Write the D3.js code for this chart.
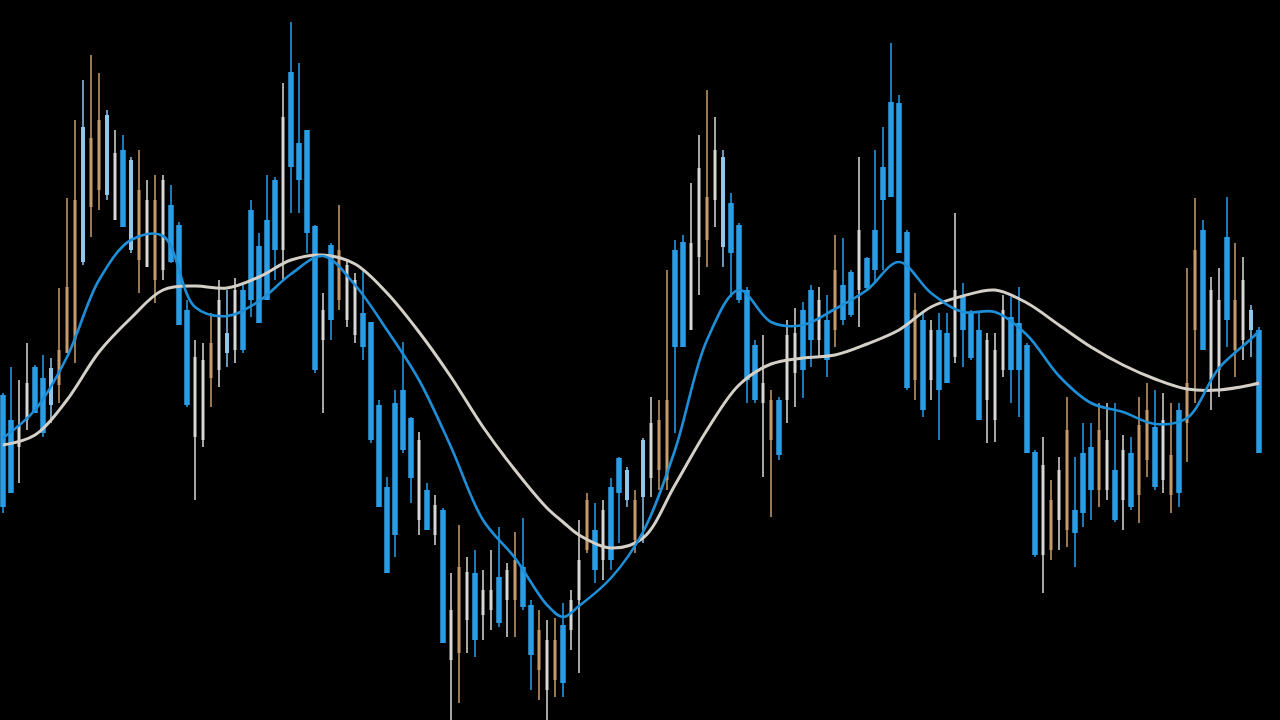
<!DOCTYPE html>
<html>
<head>
<meta charset="utf-8">
<script src="https://cdn.jsdelivr.net/npm/d3@7/dist/d3.min.js"></script>
<style>
html,body{margin:0;padding:0;background:#000;}
svg{display:block;}
</style>
</head>
<body>
<svg id="chart" width="1280" height="720"></svg>
<script>
// ---- Data (price units) ----
const high = [32.7,35.3,34.0,37.7,35.5,36.5,36.2,43.2,52.2,60.0,64.0,66.5,64.7,61.0,59.0,58.5,56.3,57.0,54.0,54.5,54.5,53.5,49.8,42.0,38.0,
37.7,40.7,44.0,43.0,44.2,43.5,52.0,48.7,54.5,54.3,63.7,69.8,65.7,59.0,49.5,42.7,47.7,51.5,46.0,44.7,45.0,39.8,32.0,24.3,33.0,37.8,
30.3,28.8,23.7,22.5,21.2,14.7,19.5,16.3,17.0,15.0,17.0,19.3,15.7,18.8,20.2,12.0,11.0,10.0,10.2,11.7,13.0,20.0,22.7,21.7,22.0,
24.2,26.3,25.3,23.0,28.2,32.3,32.0,45.0,48.0,48.5,53.7,58.5,63.0,60.3,57.0,52.7,49.7,43.3,38.0,38.5,33.0,32.3,40.0,41.2,41.8,
43.5,43.3,42.5,48.5,48.2,45.0,56.3,46.3,57.0,59.3,67.7,62.5,49.0,42.7,40.7,40.0,40.7,40.7,50.7,43.7,41.0,40.7,38.7,38.7,
42.5,42.3,43.3,37.7,27.0,28.3,24.0,26.3,32.3,26.3,29.7,29.7,31.7,31.7,31.7,28.5,28.3,32.3,33.7,33.0,32.7,31.7,31.7,45.2,52.2,50.0,44.3,45.2,52.3,47.7,46.3,41.5,39.3];

const low = [20.7,22.7,23.7,29.0,30.7,28.3,29.7,31.7,36.7,35.7,45.5,48.3,51.0,52.0,50.0,49.3,46.7,42.7,45.3,41.7,44.0,45.7,39.5,31.3,22.0,
27.3,31.3,33.3,35.3,35.7,36.7,40.3,39.7,42.0,44.0,44.0,50.7,50.7,46.7,34.7,30.7,38.0,41.0,39.3,37.7,36.0,27.7,21.3,14.7,16.3,26.7,
21.7,18.5,19.0,17.5,7.7,0.0,1.7,6.7,6.3,8.0,9.0,9.3,8.3,8.3,11.0,3.0,2.0,0.0,2.3,2.3,7.0,4.7,16.7,13.7,14.0,
15.0,17.7,21.3,16.7,17.7,22.3,23.0,23.0,28.7,37.3,39.0,42.5,45.3,49.3,45.3,42.3,41.7,31.7,31.7,24.3,20.3,26.0,29.7,31.3,32.2,
35.3,36.3,34.3,37.3,39.5,40.3,39.3,43.0,43.7,45.0,52.3,46.7,33.0,32.0,30.3,32.0,28.0,33.7,35.7,35.3,36.0,30.0,27.7,27.8,
34.3,31.7,30.3,26.7,16.3,12.7,16.0,17.0,17.3,15.3,19.3,20.0,21.3,22.0,19.8,19.0,21.0,19.7,24.3,23.0,22.7,20.7,21.3,25.8,31.7,37.0,31.0,32.3,37.3,34.3,36.0,36.3,26.7];

const open = [21.3,22.7,27.3,30.0,30.7,28.7,31.5,33.5,36.7,38.0,45.8,51.3,53.0,52.5,50.0,49.3,47.0,46.0,45.3,44.0,45.0,45.8,39.5,31.5,28.3,
28.0,34.2,35.0,36.7,37.0,37.0,42.0,39.7,42.0,47.0,47.0,55.3,54.0,48.7,35.0,38.0,40.0,42.0,40.0,38.5,37.3,28.0,21.3,14.7,18.5,27.0,
24.2,20.0,19.0,18.5,7.7,6.0,6.7,10.0,8.0,10.5,11.0,9.7,12.0,12.0,11.3,6.5,5.0,3.0,4.0,3.7,9.0,12.0,17.0,15.0,16.0,
16.0,22.7,22.0,18.0,22.3,24.2,25.0,24.0,37.3,37.3,39.0,46.3,48.0,52.0,47.3,46.7,42.0,34.0,32.0,31.7,28.0,26.5,32.0,34.7,35.0,
38.0,38.0,36.0,39.0,40.0,40.5,43.0,43.2,45.0,52.0,52.3,46.7,33.2,34.0,31.0,34.0,33.0,33.7,36.3,39.0,36.2,30.0,32.0,30.0,
35.0,35.0,35.0,26.7,16.5,16.5,17.0,20.0,19.0,18.7,20.7,23.0,23.0,23.0,20.0,22.0,21.3,22.5,26.0,23.3,24.0,22.5,22.7,29.7,39.0,37.0,34.0,35.0,40.0,37.0,38.0,39.0,26.7];

const close = [32.5,30.0,29.5,33.7,35.3,34.2,35.2,37.0,43.3,52.0,59.3,58.2,60.0,60.5,56.7,57.0,56.0,53.0,52.0,52.0,54.0,51.5,49.5,41.0,36.3,
36.0,37.7,42.0,38.7,43.0,43.0,51.0,47.4,50.0,54.0,60.3,64.8,57.7,59.0,49.4,41.0,47.5,47.0,45.5,44.0,40.7,39.8,31.5,23.3,31.7,33.0,
30.2,28.0,23.0,21.5,21.0,11.0,15.3,14.8,14.7,13.0,13.0,14.3,15.0,16.0,15.3,11.5,9.0,8.0,8.0,9.5,12.0,16.0,22.0,19.0,21.0,
23.3,26.2,25.0,22.0,28.0,29.7,30.0,32.0,47.0,47.8,47.7,55.2,52.3,57.0,56.3,51.7,49.5,43.0,37.5,33.7,32.0,32.0,38.5,38.7,41.0,
43.0,42.0,40.0,45.0,43.5,44.8,49.0,46.2,49.0,55.3,61.8,61.7,48.8,41.0,40.0,39.0,39.0,38.7,43.0,42.3,40.8,39.0,38.0,37.0,
41.0,40.3,39.7,37.5,26.8,25.5,22.0,25.0,29.0,21.0,26.7,27.3,29.0,28.0,25.0,27.0,26.7,29.5,31.0,29.3,30.0,26.5,31.0,33.7,47.0,49.0,43.0,42.0,48.3,42.0,44.0,41.0,39.0];

// candle colour group: b = blue, l = light blue, w = pale, t = tan
const kind = ["b","b","w","w","b","b","l","t","t","t","l","t","t","l","w","b","l","t","w","t","w","b","b","b","w",
"w","t","w","l","w","b","b","b","b","b","w","b","b","b","b","w","b","t","w","w","b","b","b","b","b","b",
"b","w","b","w","b","w","t","w","b","w","w","b","w","t","b","b","t","w","t","b","w","w","t","b","w",
"b","b","l","t","l","w","t","t","b","b","w","w","t","w","l","b","b","b","b","w","t","b","w","w","b",
"b","w","b","t","b","b","w","b","b","b","b","b","b","t","b","w","b","b","w","b","b","b","w","w",
"w","b","b","b","b","w","t","w","t","b","b","b","t","w","b","w","b","t","t","b","w","t","b","t","t","b","w","w","b","t","w","l","b"];

// moving averages, sampled at these candle indices
const maIndex = [0,4,8,12,16,20,24,28,32,36,40,44,48,52,56,60,64,68,70,72,76,80,84,88,92,96,100,104,108,112,116,120,124,128,132,136,140,144,148,152,156,157];
const maFast = [28.2,31.0,36.3,44.0,48.0,48.4,41.3,40.4,41.9,44.6,46.4,43.5,39.0,34.0,27.3,20.0,16.2,11.5,10.3,11.4,14.2,18.8,27.0,38.0,43.0,39.8,39.5,41.1,43.0,45.8,42.7,40.8,40.8,38.5,34.4,31.7,30.8,29.6,30.2,35.2,38.1,38.9];
const maSlow = [27.5,28.5,32.0,36.8,40.2,43.0,43.4,43.2,44.3,46.0,46.5,45.6,42.7,38.8,34.3,29.3,25.0,21.2,19.8,18.5,17.2,18.2,23.5,29.0,33.5,35.6,36.2,36.5,37.6,39.0,41.3,42.4,43.0,41.7,39.5,37.3,35.5,34.1,33.1,33.0,33.5,33.7];

// ---- Styles ----
const colors = {b:"#2b9de4", l:"#8ec6ec", w:"#d6d8d4", t:"#c89c6a"};
const bodyW = {b:5.5, l:4, w:3, t:3};

const W = 1280, H = 720;
const svg = d3.select("#chart");
svg.append("rect").attr("width",W).attr("height",H).attr("fill","#000");

const defs = svg.append("defs");
defs.append("filter").attr("id","soft").append("feGaussianBlur").attr("stdDeviation",0.45);

const N = high.length;
const x = d3.scaleLinear().domain([0, N-1]).range([3, 1259]);
const y = d3.scaleLinear().domain([0, 72]).range([H, 0]);

const data = d3.range(N).map(i => ({i, h:high[i], l:low[i], o:open[i], c:close[i], k:kind[i]}));

const g = svg.append("g").attr("filter","url(#soft)");
const cg = g.selectAll("g.candle").data(data).join("g").attr("class","candle");
cg.append("line")
  .attr("x1", d=>x(d.i)).attr("x2", d=>x(d.i))
  .attr("y1", d=>y(d.h)).attr("y2", d=>y(d.l))
  .attr("stroke", d=>colors[d.k]).attr("stroke-width", 1.7).attr("opacity",0.9);
cg.append("rect")
  .attr("x", d=>x(d.i)-bodyW[d.k]/2).attr("width", d=>bodyW[d.k])
  .attr("y", d=>y(Math.max(d.o,d.c)))
  .attr("height", d=>Math.max(1, Math.abs(y(d.o)-y(d.c))))
  .attr("fill", d=>colors[d.k]);

const line = d3.line().x(d=>x(d[0])).y(d=>y(d[1])).curve(d3.curveCatmullRom.alpha(0.5));
g.append("path").datum(maIndex.map((v,j)=>[v,maSlow[j]]))
  .attr("d", line).attr("fill","none").attr("stroke","#d4d0c8").attr("stroke-width",3);
g.append("path").datum(maIndex.map((v,j)=>[v,maFast[j]]))
  .attr("d", line).attr("fill","none").attr("stroke","#1f8fd8").attr("stroke-width",2.6);
</script>
</body>
</html>
